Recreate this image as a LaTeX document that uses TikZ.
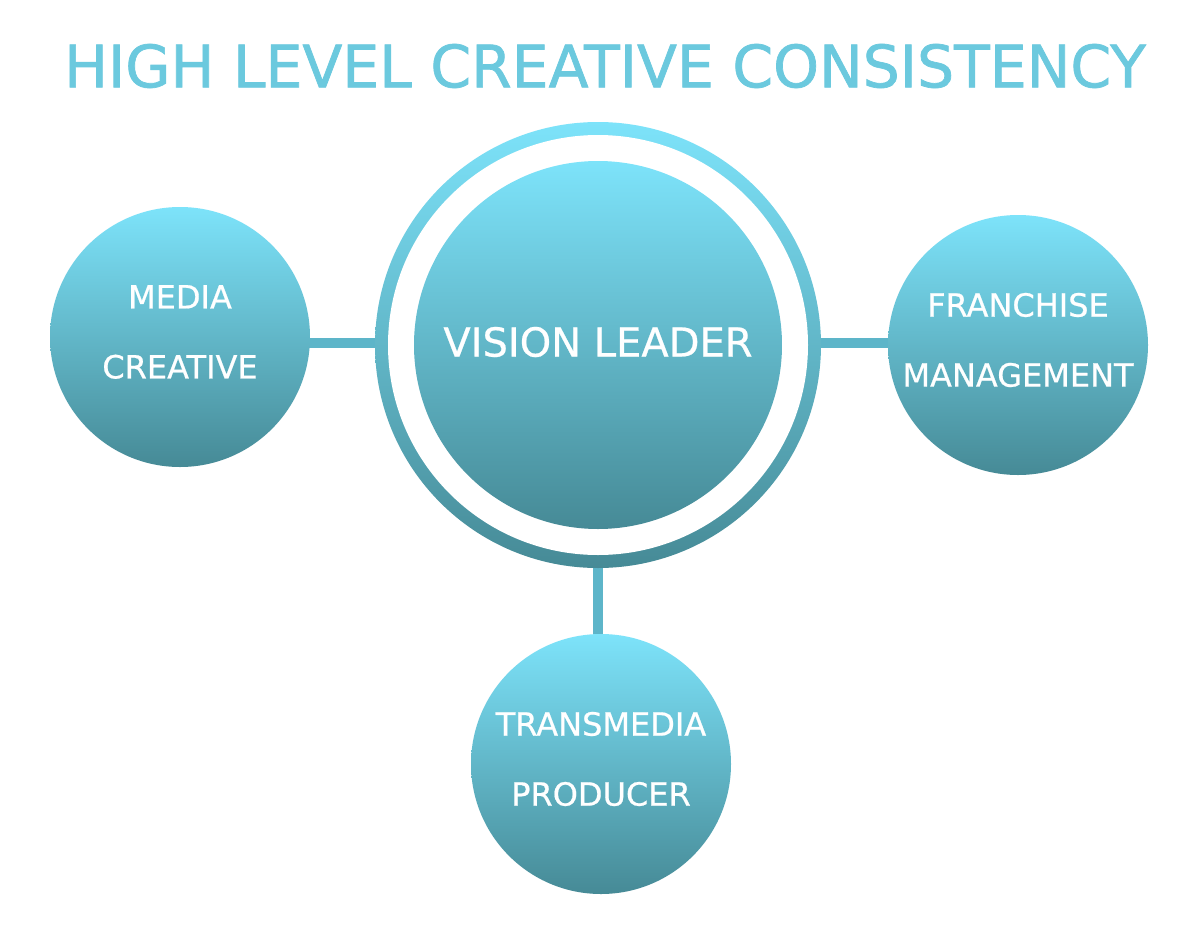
\documentclass[tikz,border=0pt]{standalone}
\usepackage{fontspec}
\setmainfont{DejaVu Sans}
\newfontfamily\titlefont[FakeBold=1.2]{DejaVu Sans}
\newfontfamily\labelfont[FakeBold=0.6]{DejaVu Sans}
\definecolor{gtop}{HTML}{7DE3FA}
\definecolor{gbot}{HTML}{468A96}
\definecolor{titleblue}{HTML}{6BC9DE}
\definecolor{connblue}{HTML}{5DB5C9}
\tikzset{
  disk/.style={circle, inner sep=0pt, draw=none, top color=gtop, bottom color=gbot},
  smalldisk/.style={disk, minimum size=130pt},
  disktext/.style={text=white, align=center, inner sep=0pt, font=\labelfont\fontsize{16}{35}\selectfont},
  conn/.style={draw=connblue, line width=5pt},
}
\begin{document}
\begin{tikzpicture}[x=0.5pt, y=-0.5pt]
\useasboundingbox[fill=white] (0,0) rectangle (1200,948);
\node[text=titleblue, font=\titlefont\fontsize{29.2}{35}\selectfont, inner sep=0pt] (title) at (605,66) {HIGH LEVEL CREATIVE CONSISTENCY};
% node positions
\coordinate (c) at (598,345);
\coordinate (lc) at (180,337);
\coordinate (rc) at (1018,345);
\coordinate (bc) at (601,764);
% connectors (behind)
\draw[conn] (lc |- 0,343) -- (c |- 0,343);
\draw[conn] (rc |- 0,343) -- (c |- 0,343);
\draw[conn] (c) -- (c |- bc);
% central ring
\node[disk, minimum size=223pt] (ring) at (c) {};
\node[circle, fill=white, inner sep=0pt, minimum size=210pt] (gap) at (c) {};
\node[disk, minimum size=184pt] (vision) at (c) {};
\node[disktext, font=\labelfont\fontsize{20}{24}\selectfont] (vision-t) at ([yshift=1.5pt]vision.center) {VISION LEADER};
% satellites
\node[smalldisk] (media) at (lc) {};
\node[smalldisk] (franchise) at (rc) {};
\node[smalldisk] (trans) at (bc) {};
\node[disktext] (media-t) at ([yshift=2.5pt]media.center) {MEDIA\\CREATIVE};
\node[disktext] (franchise-t) at ([yshift=2.5pt]franchise.center) {FRANCHISE\\MANAGEMENT};
\node[disktext] (trans-t) at ([yshift=2.5pt]trans.center) {TRANSMEDIA\\PRODUCER};
\end{tikzpicture}
\end{document}
